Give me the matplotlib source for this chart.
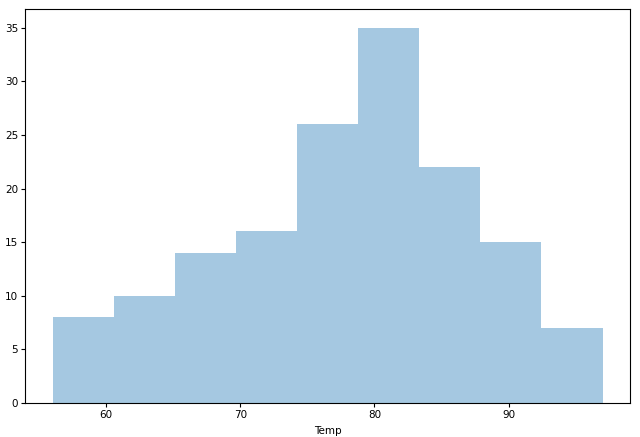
import numpy as np
import matplotlib
matplotlib.use("Agg")
import matplotlib.pyplot as plt

# Temp histogram (airquality), 9 bins from 56 to 97
bin_edges = np.linspace(56, 97, 10)
counts = [8, 10, 14, 16, 26, 35, 22, 15, 7]
x_ticks = [60, 70, 80, 90]
y_ticks = [0, 5, 10, 15, 20, 25, 30, 35]

plt.rcParams["font.size"] = 7.5

fig = plt.figure(figsize=(6.4, 4.37), dpi=100)
ax = fig.add_axes([25 / 640, 1 - 403 / 437, 605 / 640, 394 / 437])

widths = np.diff(bin_edges)
ax.bar(bin_edges[:-1], counts, width=widths, align="edge",
       color="#1f77b4", alpha=0.4, linewidth=0)

ax.set_xlim(53.95, 99.05)
ax.set_ylim(0, 36.75)
ax.set_xticks(x_ticks)
ax.set_yticks(y_ticks)
ax.set_xlabel("Temp", labelpad=4)
ax.tick_params(length=3, width=0.8, pad=2)

fig.savefig("out.png", dpi=100)
